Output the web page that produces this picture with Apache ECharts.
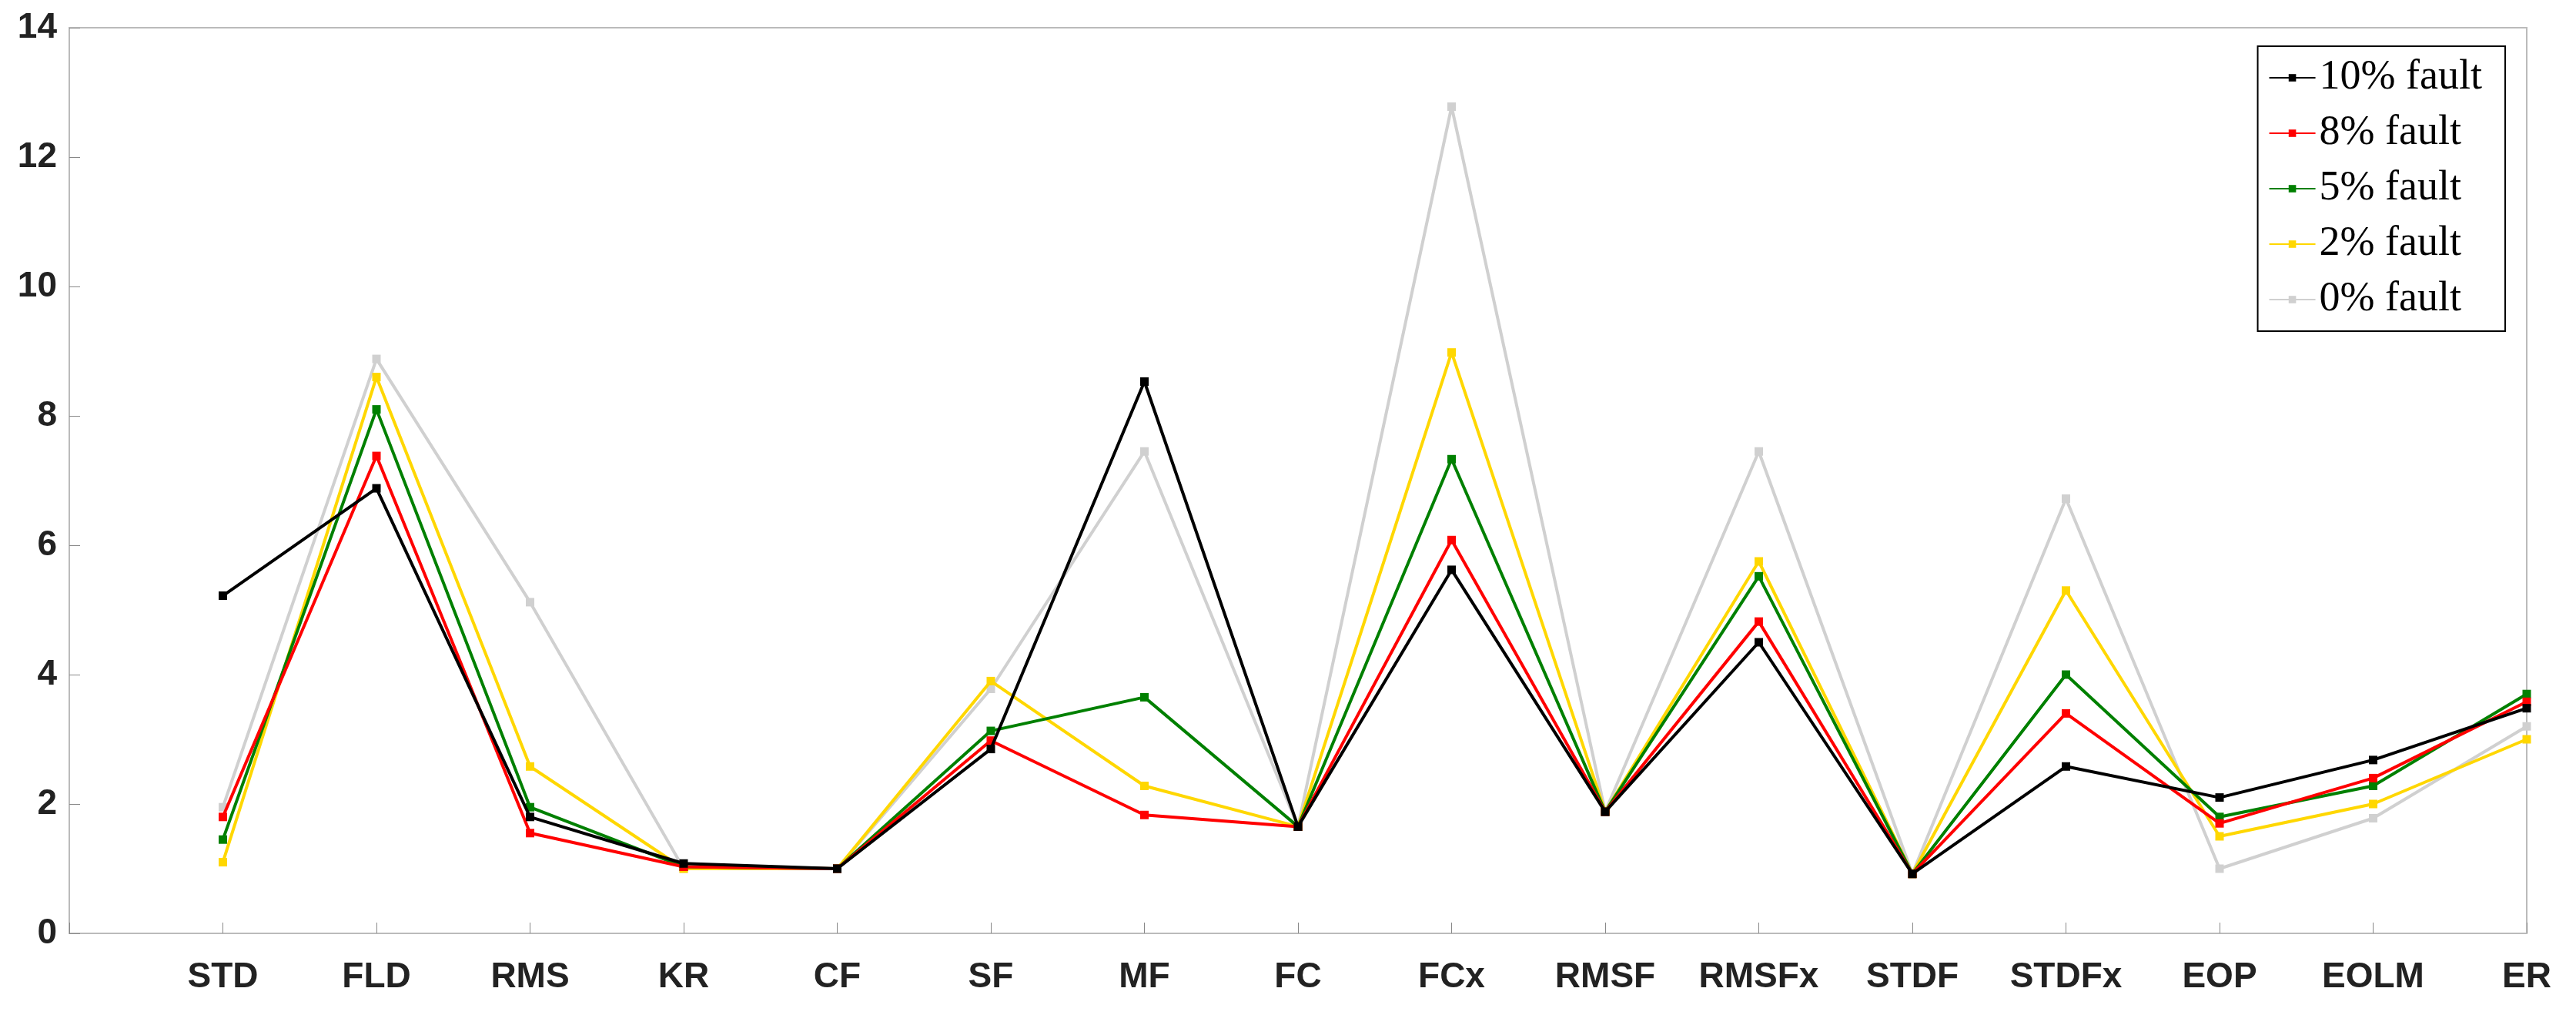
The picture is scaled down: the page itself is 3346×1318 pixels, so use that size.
<!DOCTYPE html>
<html>
<head>
<meta charset="utf-8">
<script src="https://cdn.jsdelivr.net/npm/echarts@6/dist/echarts.min.js"></script>
<style>html,body{margin:0;padding:0;background:#fff}#chart{width:3346px;height:1318px}</style>
</head>
<body>
<div id="chart"></div>
<script>
// 类别与数据
const categories = ['', 'STD', 'FLD', 'RMS', 'KR', 'CF', 'SF', 'MF', 'FC', 'FCx', 'RMSF', 'RMSFx', 'STDF', 'STDFx', 'EOP', 'EOLM', 'ER'];
const seriesNames = ['10% fault', '8% fault', '5% fault', '2% fault', '0% fault'];
const seriesColors = ['#000000', '#ff0000', '#008000', '#ffd700', '#d0d0d0'];
const fault10 = [null, 5.22, 6.88, 1.8, 1.08, 1.0, 2.85, 8.53, 1.65, 5.62, 1.88, 4.5, 0.92, 2.58, 2.1, 2.68, 3.48];
const fault8 = [null, 1.8, 7.38, 1.55, 1.03, 1.0, 2.98, 1.83, 1.65, 6.08, 1.88, 4.82, 0.92, 3.4, 1.7, 2.4, 3.58];
const fault5 = [null, 1.45, 8.1, 1.95, 1.03, 1.0, 3.13, 3.65, 1.65, 7.33, 1.88, 5.52, 0.92, 4.0, 1.8, 2.28, 3.7];
const fault2 = [null, 1.1, 8.6, 2.58, 1.0, 1.0, 3.9, 2.28, 1.65, 8.98, 1.88, 5.75, 0.92, 5.3, 1.5, 2.0, 3.0];
const fault0 = [null, 1.95, 8.88, 5.12, 1.0, 1.0, 3.78, 7.45, 1.65, 12.78, 1.88, 7.45, 0.92, 6.72, 1.0, 1.78, 3.2];
const allData = [fault10, fault8, fault5, fault2, fault0];

const chart = echarts.init(document.getElementById('chart'));
const axisFont = { fontFamily: 'Liberation Sans', fontWeight: 'bold', fontSize: 46, color: '#222' };

chart.setOption({
    animation: false,
    grid: { left: 90, right: 64, top: 36, bottom: 106, show: true, borderColor: '#bbb', borderWidth: 2 },
    legend: {
        orient: 'vertical', right: 92, top: 60,
        data: seriesNames,
        backgroundColor: '#fff', borderColor: '#000', borderWidth: 2,
        padding: [14, 30, 14, 14], itemGap: 18, itemWidth: 60, itemHeight: 12,
        textStyle: { fontFamily: 'Liberation Serif', fontSize: 54, color: '#000' }
    },
    xAxis: {
        type: 'category', data: categories, boundaryGap: false,
        axisLine: { lineStyle: { color: '#bbb', width: 2 } },
        axisTick: { inside: true, length: 14, lineStyle: { color: '#888' } },
        axisLabel: Object.assign({ margin: 34, interval: 0 }, axisFont)
    },
    yAxis: {
        type: 'value', min: 0, max: 14, interval: 2,
        splitLine: { show: false },
        axisLine: { show: true, lineStyle: { color: '#bbb', width: 2 } },
        axisTick: { show: true, inside: true, length: 14, lineStyle: { color: '#888' } },
        axisLabel: Object.assign({ margin: 16 }, axisFont)
    },
    series: seriesNames.map((name, i) => ({
        name: name, type: 'line', data: allData[i],
        symbol: 'rect', symbolSize: 11,
        z: 10 - i,
        itemStyle: { color: seriesColors[i] },
        lineStyle: { color: seriesColors[i], width: 4 }
    }))
});
</script>
</body>
</html>
